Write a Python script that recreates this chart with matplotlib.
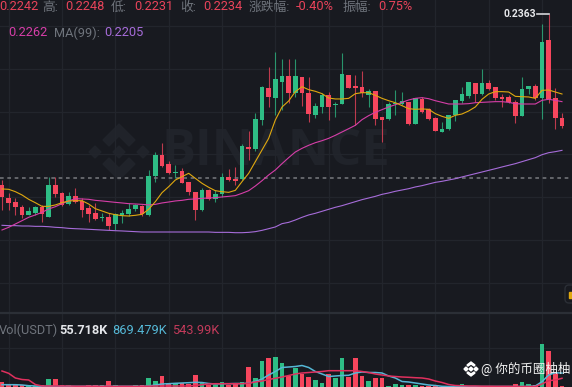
import matplotlib
matplotlib.use('Agg')
import matplotlib.pyplot as plt
from matplotlib.patches import Polygon, FancyBboxPatch, Rectangle
import numpy as np

plt.rcParams['font.family'] = ['Roboto', 'Noto Sans CJK SC', 'DejaVu Sans']

opens = [.21664, .21510, .21464, .21414, .21319, .21345, .21414, .21299, .21664, .21568,
         .21445, .21541, .21483, .21395, .21338, .21280, .21299, .21215, .21319, .21326,
         .21388, .21426, .21319, .21767, .22009, .21905, .21798, .21828, .21702, .21579,
         .21376, .21606, .21499, .21560, .21759, .21733, .21729, .22104, .22074, .22411,
         .22775, .22668, .22852, .22917, .22718, .22902, .22718, .22469, .22557, .22699,
         .22580, .22595, .22929, .22806, .22794, .22699, .22745, .22449, .22419, .22595,
         .22595, .22622, .22365, .22653, .22534, .22430, .22277, .22304, .22469, .22633,
         .22687, .22833, .22706, .22833, .22787, .22679, .22672, .22614, .22457, .22764,
         .22806, .22668, .23331, .22660, .22430]
closes = [.21529, .21460, .21414, .21319, .21365, .21414, .21330, .21664, .21560, .21434,
          .21537, .21472, .21376, .21330, .21269, .21292, .21192, .21326, .21338, .21388,
          .21434, .21326, .21767, .22009, .21882, .21798, .21817, .21690, .21579, .21376,
          .21606, .21499, .21560, .21759, .21721, .21710, .22116, .22074, .22423, .22787,
          .22679, .22879, .22917, .22718, .22917, .22718, .22480, .22572, .22699, .22564,
          .22595, .22936, .22783, .22775, .22725, .22748, .22419, .22411, .22595, .22610,
          .22630, .22361, .22660, .22507, .22419, .22288, .22304, .22469, .22641, .22710,
          .22844, .22706, .22833, .22764, .22668, .22649, .22614, .22457, .22768, .22806,
          .22660, .23308, .22653, .22430, .22342]
highs = [.21721, .21568, .21510, .21434, .21407, .21422, .21434, .21759, .21759, .21587,
         .21579, .21625, .21510, .21434, .21453, .21338, .21338, .21338, .21376, .21453,
         .21445, .21434, .21836, .22047, .22150, .21943, .21894, .21855, .21702, .21587,
         .21625, .21614, .21606, .21798, .21844, .21867, .22135, .22285, .22488, .22802,
         .23017, .23189, .23109, .23109, .23109, .22902, .22909, .22610, .22718, .22737,
         .22622, .23185, .22929, .22929, .22978, .22764, .22748, .22449, .22622, .22756,
         .22733, .22622, .22660, .22679, .22545, .22442, .22392, .22469, .22641, .22787,
         .22844, .22833, .22994, .22871, .22787, .22710, .22699, .22641, .22902, .22806,
         .22825, .23515, .23630, .22775, .22488]
lows = [.21376, .21376, .21319, .21280, .21319, .21319, .21242, .21292, .21529, .21422,
        .21434, .21453, .21299, .21242, .21261, .21253, .21146, .21146, .21230, .21307,
        .21368, .21311, .21307, .21702, .21867, .21790, .21740, .21683, .21549, .21261,
        .21368, .21491, .21472, .21529, .21713, .21664, .21721, .21951, .22055, .22354,
        .22564, .22469, .22526, .22603, .22679, .22572, .22392, .22430, .22488, .22411,
        .22449, .22595, .22775, .22354, .22679, .22564, .22354, .22162, .22411, .22469,
        .22584, .22354, .22365, .22495, .22411, .22285, .22277, .22296, .22403, .22603,
        .22660, .22622, .22699, .22756, .22641, .22564, .22603, .22380, .22457, .22710,
        .22641, .22419, .22603, .22304, .22315]

ma7 = [.21618, .21614, .21587, .21549, .21499, .21460, .21418, .21418, .21434, .21460,
       .21480, .21483, .21483, .21445, .21391, .21365, .21338, .21322, .21311, .21307,
       .21315, .21326, .21384, .21472, .21575, .21644, .21721, .21759, .21798, .21740,
       .21683, .21637, .21598, .21587, .21579, .21602, .21702, .21798, .21932, .22066,
       .22200, .22411, .22560, .22630, .22737, .22794, .22760, .22741, .22714, .22664,
       .22653, .22653, .22660, .22714, .22725, .22725, .22695, .22660, .22633, .22610,
       .22576, .22541, .22534, .22538, .22534, .22484, .22453, .22430, .22465, .22480,
       .22515, .22561, .22649, .22710, .22737, .22737, .22733, .22683, .22679, .22676,
       .22660, .22752, .22756, .22733, .22710]
ma25 = [.21146, .21177, .21215, .21253, .21292, .21319, .21349, .21388, .21414, .21449,
        .21480, .21506, .21503, .21499, .21487, .21480, .21472, .21464, .21457, .21449,
        .21445, .21441, .21434, .21441, .21457, .21468, .21480, .21487, .21499, .21503,
        .21510, .21514, .21518, .21526, .21533, .21541, .21568, .21598, .21652, .21713,
        .21779, .21836, .21909, .21978, .22043, .22085, .22120, .22150, .22173, .22200,
        .22235, .22273, .22311, .22350, .22415, .22461, .22499, .22530, .22561, .22587,
        .22614, .22641, .22660, .22668, .22656, .22633, .22614, .22595, .22595, .22595,
        .22599, .22610, .22614, .22618, .22622, .22622, .22614, .22599, .22595, .22595,
        .22595, .22637, .22649, .22637, .22622]
ma99 = [.21200, .21196, .21196, .21192, .21192, .21188, .21188, .21184, .21177, .21173,
        .21165, .21161, .21158, .21154, .21150, .21146, .21142, .21138, .21135, .21131,
        .21127, .21123, .21123, .21123, .21123, .21123, .21123, .21123, .21123, .21123,
        .21123, .21123, .21119, .21119, .21119, .21115, .21115, .21119, .21127, .21142,
        .21161, .21181, .21219, .21234, .21261, .21292, .21319, .21338, .21361, .21384,
        .21407, .21426, .21449, .21472, .21495, .21514, .21533, .21556, .21572, .21591,
        .21606, .21621, .21641, .21656, .21675, .21694, .21706, .21721, .21736, .21756,
        .21775, .21794, .21813, .21832, .21851, .21871, .21890, .21909, .21932, .21955,
        .21978, .22012, .22035, .22047, .22062]

# volume in thousands of USDT
volume = [331, 125, 94, 94, 63, 63, 94, 500, 481, 125,
          94, 63, 63, 94, 125, 94, 356, 94, 75, 75,
          94, 94, 544, 394, 688, 188, 281, 281, 188, 731,
          231, 156, 94, 294, 94, 188, 294, 1250, 544, 1625,
          1813, 1856, 1481, 688, 1206, 813, 644, 438, 231, 813,
          581, 1794, 644, 1794, 706, 356, 581, 544, 63, 188,
          144, 125, 106, 44, 50, 38, 31, 31, 50, 188,
          50, 50, 38, 50, 50, 50, 50, 188, 313, 188,
          144, 2688, 2231, 856, 55.7]
vol_ma_fast = [144, 144, 144, 125, 81, 63, 44, 44, 44, 44,
               44, 44, 44, 44, 44, 44, 44, 44, 44, 44,
               44, 44, 63, 125, 188, 206, 231, 250, 269, 294,
               281, 219, 188, 206, 206, 219, 219, 231, 344, 500,
               750, 969, 1219, 1250, 1281, 1344, 1219, 969, 813, 656,
               688, 719, 731, 875, 938, 906, 906, 875, 688, 563,
               344, 313, 250, 188, 125, 94, 44, 31, 31, 31,
               31, 31, 31, 31, 31, 31, 31, 31, 31, 44,
               63, 331, 750, 894, 869]
vol_ma_slow = [1000, 856, 563, 469, 438, 156, 63, 63, 63, 63,
               63, 50, 50, 50, 44, 44, 44, 44, 44, 44,
               44, 44, 50, 63, 63, 63, 63, 63, 63, 94,
               144, 188, 206, 206, 206, 206, 206, 231, 313, 375,
               469, 544, 625, 719, 813, 875, 906, 938, 969, 1019,
               1019, 1019, 1019, 1019, 969, 906, 813, 750, 688, 656,
               625, 606, 581, 563, 500, 375, 281, 156, 94, 81,
               63, 63, 50, 50, 44, 44, 44, 31, 31, 31,
               31, 188, 394, 438, 544]

price_grid = [.23492, .23003, .22501, .22018, .21524, .21029, .20535]
last_price = .21744
high_label = '0.2363'

BG = '#181A20'
UP = '#2EBD85'
DOWN = '#F6465D'
GRID = '#22252C'

x = np.arange(len(opens))
opens = np.array(opens)
closes = np.array(closes)
is_up = closes >= opens
colors = [UP if u else DOWN for u in is_up]
xlim = (-0.3, 85.5)
vgrid = np.arange(1, 85, 8)

fig = plt.figure(figsize=(5.72, 3.87), dpi=100, facecolor=BG)


def px_axes(top, bottom, z):
    a = fig.add_axes([0, 1 - bottom / 387, 1, (bottom - top) / 387], zorder=z)
    a.patch.set_alpha(0)
    for s in a.spines.values():
        s.set_visible(False)
    a.tick_params(length=0, labelbottom=False, labelleft=False)
    return a


# watermark goes underneath everything
under = px_axes(0, 387, 0)
under.set_xlim(0, 572)
under.set_ylim(387, 0)
under.axis('off')
WM = '#20232A'
cx, cy = 119, 152
under.add_patch(Polygon([(cx - 6, cy), (cx, cy - 6), (cx + 6, cy), (cx, cy + 6)], color=WM))
under.add_patch(Polygon([(cx - 30, cy), (cx - 24, cy - 6), (cx - 18, cy), (cx - 24, cy + 6)], color=WM))
under.add_patch(Polygon([(cx + 30, cy), (cx + 24, cy - 6), (cx + 18, cy), (cx + 24, cy + 6)], color=WM))
under.add_patch(Polygon([(cx - 16, cy - 12), (cx, cy - 28), (cx + 16, cy - 12), (cx + 10, cy - 6),
                         (cx, cy - 16), (cx - 10, cy - 6)], color=WM))
under.add_patch(Polygon([(cx - 16, cy + 12), (cx, cy + 28), (cx + 16, cy + 12), (cx + 10, cy + 6),
                         (cx, cy + 16), (cx - 10, cy + 6)], color=WM))
under.text(162, 152, 'BINANCE', color=WM, fontsize=36.5, fontweight='bold', va='center', ha='left',
           family='Open Sans')

ax = px_axes(0, 313, 1)
ax.set_xlim(*xlim)
ax.set_ylim(.23791 - 313 * .000115, .23791)
ax.set_xticks(vgrid)
ax.set_yticks(price_grid)
ax.grid(True, color=GRID, lw=0.9)
ax.set_axisbelow(True)

ax.vlines(x, lows, highs, colors=colors, lw=0.8, alpha=0.75, zorder=2)
ax.bar(x, np.abs(closes - opens), bottom=np.minimum(opens, closes), width=0.7, color=colors, zorder=3)
ax.axhline(last_price, color='#787A7E', lw=1.1, dashes=(2.4, 2.4), zorder=2)
ax.plot(x, ma99, color='#A66CD9', lw=0.8, zorder=4)
ax.plot(x, ma25, color='#D63EA8', lw=0.8, zorder=4)
ax.plot(x, ma7, color='#E0A80F', lw=0.8, zorder=4)

vol = px_axes(313, 387, 1)
vol.set_xlim(*xlim)
vol.set_ylim(0, 74 * 62.5)
vol.set_xticks(vgrid)
vol.set_yticks([39 * 62.5])
vol.grid(True, color=GRID, lw=0.9)
vol.set_axisbelow(True)
vol.bar(x, volume, width=0.7, color=colors, zorder=2)
vol.plot(x, vol_ma_fast, color='#55B8D6', lw=1.1, zorder=3)
vol.plot(x, vol_ma_slow, color='#E0305E', lw=1.1, zorder=4)
vol.axhline(74 * 62.5, color='#2B2F36', lw=1.6, clip_on=False)

# text layer in pixel coordinates
top = px_axes(0, 387, 2)
top.set_xlim(0, 572)
top.set_ylim(387, 0)
top.axis('off')

RED = '#E8435A'
GREY = '#6F747C'
FS = 9.2
row1 = [(-1, '0.2242', RED), (42, '高:', GREY), (65, '0.2248', RED), (111, '低:', GREY),
        (134, '0.2231', RED), (180, '收:', GREY), (203, '0.2234', RED), (249, '涨跌幅:', GREY),
        (296, '-0.40%', RED), (343, '振幅:', GREY), (378, '0.75%', RED)]
for tx, s, c in row1:
    top.text(tx, 7, s, color=c, fontsize=FS, va='center', ha='left')
row2 = [(8, '0.2262', '#D63EA8'), (54, 'MA(99):', GREY), (104, '0.2205', '#A66CD9')]
for tx, s, c in row2:
    top.text(tx, 33, s, color=c, fontsize=FS, va='center', ha='left')
row3 = [(-1, 'Vol(USDT)', GREY, 'normal'), (59, '55.718K', '#E4E6EA', 'bold'),
        (112, '869.479K', '#55B8D6', 'normal'), (172, '543.99K', '#C23A5A', 'normal')]
for tx, s, c, w in row3:
    top.text(tx, 330, s, color=c, fontsize=FS, va='center', ha='left', fontweight=w)

top.text(504, 14, high_label, color='#E8E9EC', fontsize=7.4, fontweight='bold', va='center', ha='left')
top.plot([537, 549], [14, 14], color='#D5D6DA', lw=1.2)

# little side button at right edge
top.add_patch(FancyBboxPatch((565, 285), 20, 18, boxstyle='round,pad=0,rounding_size=4',
                             fc=BG, ec='#2B2F36', lw=1))
top.add_patch(Rectangle((569, 292), 3, 6, color='#E0A80F'))

# user watermark, bottom right
lx, ly = 471, 369
top.add_patch(Polygon([(lx - 2, ly), (lx, ly - 2), (lx + 2, ly), (lx, ly + 2)], color='white'))
top.add_patch(Polygon([(lx - 7, ly), (lx - 5, ly - 2), (lx - 3, ly), (lx - 5, ly + 2)], color='white'))
top.add_patch(Polygon([(lx + 7, ly), (lx + 5, ly - 2), (lx + 3, ly), (lx + 5, ly + 2)], color='white'))
top.add_patch(Polygon([(lx - 4, ly - 4), (lx, ly - 7), (lx + 4, ly - 4), (lx + 3, ly - 3), (lx, ly - 5), (lx - 3, ly - 3)], color='white'))
top.add_patch(Polygon([(lx - 4, ly + 4), (lx, ly + 7), (lx + 4, ly + 4), (lx + 3, ly + 3), (lx, ly + 5), (lx - 3, ly + 3)], color='white'))
top.text(481, 369, '@ 你的币圈柚柚', color='#F2F2F2', fontsize=9, va='center', ha='left')

fig.savefig('out.png', dpi=100, facecolor=BG)
